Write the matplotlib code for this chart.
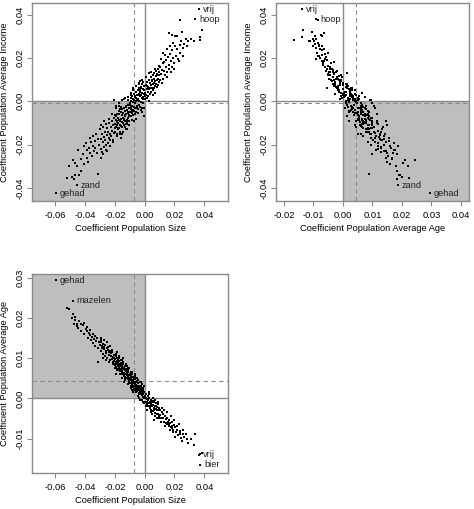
import matplotlib
matplotlib.use("Agg")
import matplotlib.pyplot as plt

""" Word coefficients: population size, average income, average age """

size_coef = [
    -0.0520, -0.0505, -0.0490, -0.0480, -0.0475, -0.0470, -0.0465, -0.0455, -0.0450, -0.0440,
    -0.0430, -0.0425, -0.0415, -0.0410, -0.0405,
    -0.0395, -0.0390, -0.0385, -0.0380, -0.0375, -0.0370, -0.0365, -0.0360, -0.0355, -0.0350,
    -0.0345, -0.0340, -0.0335, -0.0330, -0.0325, -0.0320, -0.0315, -0.0310, -0.0305,
    -0.0298, -0.0295, -0.0292, -0.0288, -0.0285, -0.0282, -0.0278, -0.0275, -0.0272, -0.0268,
    -0.0265, -0.0262, -0.0258, -0.0255, -0.0252, -0.0248, -0.0245, -0.0242, -0.0238, -0.0235,
    -0.0232, -0.0228, -0.0225, -0.0222, -0.0218, -0.0215, -0.0212, -0.0208, -0.0205, -0.0202,
    -0.0205,
    -0.0199, -0.0197, -0.0195, -0.0193, -0.0191, -0.0189, -0.0187, -0.0185, -0.0183, -0.0181,
    -0.0179, -0.0177, -0.0175, -0.0173, -0.0171, -0.0169, -0.0167, -0.0165, -0.0163, -0.0161,
    -0.0159, -0.0157, -0.0155, -0.0153, -0.0151, -0.0149, -0.0147, -0.0145, -0.0143, -0.0141,
    -0.0139, -0.0137, -0.0135, -0.0133, -0.0131, -0.0129, -0.0127, -0.0125, -0.0123, -0.0121,
    -0.0119, -0.0117, -0.0115, -0.0113, -0.0111, -0.0109, -0.0107, -0.0105, -0.0103, -0.0101,
    -0.0190, -0.0160, -0.0140, -0.0120, -0.0175, -0.0150, -0.0110, -0.0130,
    -0.0099, -0.0097, -0.0095, -0.0093, -0.0091, -0.0089, -0.0087, -0.0085, -0.0083, -0.0081,
    -0.0079, -0.0077, -0.0075, -0.0073, -0.0071, -0.0069, -0.0067, -0.0065, -0.0063, -0.0061,
    -0.0059, -0.0057, -0.0055, -0.0053, -0.0051, -0.0049, -0.0047, -0.0045, -0.0043, -0.0041,
    -0.0039, -0.0037, -0.0035, -0.0033, -0.0031, -0.0029, -0.0027, -0.0025, -0.0023, -0.0021,
    -0.0019, -0.0017, -0.0015, -0.0013, -0.0011, -0.0009, -0.0007, -0.0005, -0.0003, -0.0001,
    -0.0080, -0.0060, -0.0040, -0.0020, -0.0090, -0.0030, -0.0070, -0.0010,
    0.0002, 0.0005, 0.0008, 0.0010, 0.0013, 0.0015, 0.0018, 0.0020, 0.0023, 0.0025,
    0.0028, 0.0030, 0.0033, 0.0035, 0.0038, 0.0040, 0.0043, 0.0045, 0.0048, 0.0050,
    0.0053, 0.0055, 0.0058, 0.0060, 0.0063, 0.0065, 0.0068, 0.0070, 0.0073, 0.0075,
    0.0078, 0.0080, 0.0083, 0.0085, 0.0088, 0.0090, 0.0093, 0.0095, 0.0098, 0.0063,
    0.0030, 0.0070,
    0.0102, 0.0106, 0.0110, 0.0115, 0.0120, 0.0125, 0.0130, 0.0135, 0.0140, 0.0145,
    0.0150, 0.0155, 0.0160, 0.0165, 0.0170, 0.0175, 0.0180, 0.0185, 0.0190, 0.0195,
    0.0160, 0.0185, 0.0125,
    0.0205, 0.0210, 0.0220, 0.0225, 0.0235, 0.0240, 0.0245, 0.0255, 0.0265, 0.0285,
    0.0240, 0.0215,
    0.0330, 0.0370, 0.0385, 0.0340, 0.0365, 0.0373, 0.0310,
    -0.0597, -0.0456, -0.0483,
    # wider scatter
    -0.0290, -0.0280, -0.0270, -0.0260, -0.0250, -0.0240, -0.0230, -0.0220, -0.0210, -0.0295,
    -0.0195, -0.0185, -0.0175, -0.0165, -0.0155, -0.0145, -0.0135, -0.0125, -0.0115, -0.0105,
    -0.0188, -0.0168, -0.0148, -0.0128, -0.0108, -0.0198, -0.0178, -0.0158, -0.0138, -0.0118,
    -0.0095, -0.0085, -0.0075, -0.0065, -0.0055, -0.0045, -0.0035, -0.0025, -0.0015, -0.0005,
    -0.0092, -0.0072, -0.0052, -0.0032, -0.0012, -0.0082, -0.0062, -0.0042, -0.0022, -0.0002,
    0.0012, 0.0027, 0.0042, 0.0057, 0.0072, 0.0087, 0.0097, 0.0017, 0.0052, 0.0082,
    0.0108, 0.0118, 0.0138, 0.0148, 0.0168, 0.0178, 0.0193, 0.0152, 0.0128, 0.0198,
    0.0205, 0.0230, 0.0250, 0.0260, 0.0275, 0.0292,
]

income_coef = [
    -0.0355, -0.0300, -0.0350, -0.0270, -0.0360, -0.0340, -0.0285, -0.0300, -0.0225, -0.0340,
    -0.0265, -0.0320, -0.0245, -0.0290, -0.0205,
    -0.0195, -0.0260, -0.0225, -0.0280, -0.0215, -0.0170, -0.0240, -0.0190, -0.0255, -0.0205,
    -0.0160, -0.0230, -0.0185, -0.0215, -0.0150, -0.0240, -0.0175, -0.0335, -0.0200,
    -0.0130, -0.0220, -0.0175, -0.0150, -0.0235, -0.0190, -0.0120, -0.0165, -0.0210, -0.0140,
    -0.0180, -0.0105, -0.0225, -0.0155, -0.0125, -0.0195, -0.0140, -0.0170, -0.0100, -0.0150,
    -0.0205, -0.0120, -0.0160, -0.0090, -0.0135, -0.0180, -0.0110, -0.0145, -0.0075, -0.0125,
    0.0005,
    -0.0105, -0.0140, -0.0070, -0.0120, -0.0085, -0.0150, -0.0060, -0.0110, -0.0095, -0.0130,
    -0.0075, -0.0100, -0.0045, -0.0125, -0.0085, -0.0060, -0.0110, -0.0090, -0.0140, -0.0050,
    -0.0080, -0.0115, -0.0065, -0.0095, -0.0035, -0.0120, -0.0075, -0.0055, -0.0100, -0.0080,
    -0.0030, -0.0110, -0.0065, -0.0090, -0.0045, -0.0070, -0.0105, -0.0025, -0.0060, -0.0085,
    -0.0040, -0.0095, -0.0055, -0.0015, -0.0075, -0.0050, -0.0090, -0.0030, -0.0065, -0.0010,
    -0.0020, -0.0170, 0.0010, -0.0130, -0.0020, -0.0150, 0.0005, -0.0120,
    -0.0050, -0.0015, -0.0070, 0.0000, -0.0035, 0.0015, -0.0055, -0.0020, 0.0025, -0.0040,
    -0.0005, -0.0065, 0.0010, -0.0025, 0.0035, -0.0045, -0.0010, 0.0020, -0.0030, 0.0045,
    0.0000, -0.0050, 0.0015, -0.0020, 0.0030, 0.0005, -0.0035, 0.0050, 0.0010, -0.0015,
    0.0035, 0.0000, 0.0060, -0.0025, 0.0025, 0.0045, -0.0005, 0.0030, 0.0065, 0.0015,
    -0.0030, 0.0040, 0.0080, 0.0020, 0.0055, -0.0010, 0.0035, 0.0070, -0.0070, 0.0025,
    0.0060, -0.0080, 0.0085, -0.0050, 0.0040, 0.0095, -0.0090, 0.0090,
    0.0040, 0.0010, 0.0075, 0.0030, 0.0055, 0.0015, 0.0090, 0.0045, 0.0065, 0.0025,
    0.0100, 0.0055, 0.0035, 0.0085, 0.0060, 0.0110, 0.0045, 0.0075, 0.0095, 0.0060,
    0.0120, 0.0080, 0.0050, 0.0105, 0.0085, 0.0130, 0.0070, 0.0095, 0.0115, 0.0080,
    0.0140, 0.0100, 0.0065, 0.0125, 0.0105, 0.0150, 0.0090, 0.0120, 0.0135, 0.0060,
    0.0130, 0.0040,
    0.0100, 0.0160, 0.0125, 0.0145, 0.0105, 0.0175, 0.0140, 0.0120, 0.0190, 0.0160,
    0.0135, 0.0205, 0.0170, 0.0150, 0.0220, 0.0185, 0.0160, 0.0235, 0.0200, 0.0175,
    0.0315, 0.0305, 0.0225,
    0.0255, 0.0210, 0.0240, 0.0195, 0.0260, 0.0225, 0.0280, 0.0245, 0.0265, 0.0255,
    0.0375, 0.0300,
    0.0280, 0.0295, 0.0330, 0.0380, 0.0425, 0.0285, 0.0290,
    -0.0425, -0.0388, -0.0270,
    # wider scatter
    -0.0110, -0.0245, -0.0090, -0.0200, -0.0230, -0.0080, -0.0180, -0.0060, -0.0190, -0.0260,
    -0.0030, -0.0160, -0.0010, -0.0150, 0.0005, -0.0140, 0.0015, -0.0130, 0.0020, -0.0110,
    -0.0090, -0.0035, -0.0100, -0.0020, -0.0070, -0.0065, -0.0125, -0.0025, -0.0085, -0.0105,
    0.0030, -0.0085, 0.0050, -0.0060, 0.0070, -0.0055, 0.0080, -0.0040, 0.0100, -0.0030,
    -0.0025, 0.0005, -0.0030, 0.0050, 0.0010, -0.0045, 0.0025, 0.0030, 0.0060, 0.0050,
    0.0110, 0.0000, 0.0135, 0.0030, 0.0150, 0.0075, 0.0165, 0.0070, 0.0100, 0.0120,
    0.0195, 0.0085, 0.0215, 0.0110, 0.0255, 0.0135, 0.0270, 0.0240, 0.0180, 0.0150,
    0.0300, 0.0185, 0.0320, 0.0210, 0.0290, 0.0280,
]

age_coef = [
    0.0225, 0.0222, 0.0200, 0.0210, 0.0185, 0.0195, 0.0203, 0.0180, 0.0175, 0.0192,
    0.0168, 0.0185, 0.0183, 0.0160, 0.0188,
    0.0172, 0.0168, 0.0178, 0.0150, 0.0162, 0.0158, 0.0170, 0.0145, 0.0152, 0.0160,
    0.0138, 0.0148, 0.0155, 0.0130, 0.0142, 0.0150, 0.0125, 0.0090, 0.0140,
    0.0132, 0.0118, 0.0140, 0.0125, 0.0130, 0.0110, 0.0136, 0.0122, 0.0128, 0.0105,
    0.0134, 0.0118, 0.0112, 0.0125, 0.0100, 0.0120, 0.0128, 0.0108, 0.0115, 0.0095,
    0.0118, 0.0105, 0.0112, 0.0098, 0.0120, 0.0102, 0.0090, 0.0108, 0.0100, 0.0085,
    0.0092,
    0.0098, 0.0082, 0.0090, 0.0105, 0.0078, 0.0092, 0.0086, 0.0100, 0.0072, 0.0088,
    0.0095, 0.0080, 0.0084, 0.0070, 0.0092, 0.0076, 0.0085, 0.0068, 0.0080, 0.0088,
    0.0074, 0.0062, 0.0082, 0.0070, 0.0078, 0.0066, 0.0085, 0.0060, 0.0072, 0.0064,
    0.0076, 0.0058, 0.0070, 0.0080, 0.0062, 0.0054, 0.0068, 0.0060, 0.0074, 0.0052,
    0.0064, 0.0058, 0.0048, 0.0066, 0.0055, 0.0070, 0.0046, 0.0058, 0.0050, 0.0062,
    0.0060, 0.0095, 0.0040, 0.0080, 0.0105, 0.0050, 0.0035, 0.0045,
    0.0050, 0.0038, 0.0055, 0.0045, 0.0030, 0.0052, 0.0042, 0.0060, 0.0036, 0.0028,
    0.0046, 0.0038, 0.0054, 0.0032, 0.0040, 0.0024, 0.0048, 0.0030, 0.0036, 0.0026,
    0.0042, 0.0020, 0.0034, 0.0028, 0.0044, 0.0018, 0.0032, 0.0024, 0.0038, 0.0014,
    0.0028, 0.0020, 0.0032, 0.0016, 0.0026, 0.0010, 0.0022, 0.0030, 0.0012, 0.0018,
    0.0008, 0.0024, 0.0014, 0.0004, 0.0020, 0.0010, 0.0000, 0.0016, 0.0015, 0.0006,
    0.0015, 0.0050, 0.0002, 0.0035, 0.0065, -0.0005, 0.0020, -0.0010,
    0.0005, -0.0008, 0.0002, 0.0012, -0.0015, -0.0002, -0.0010, 0.0006, -0.0020, -0.0005,
    -0.0012, 0.0002, -0.0025, -0.0008, -0.0018, -0.0004, -0.0014, -0.0028, -0.0010, -0.0020,
    -0.0006, -0.0032, -0.0016, -0.0024, -0.0008, -0.0030, -0.0018, -0.0036, -0.0012, -0.0026,
    -0.0020, -0.0040, -0.0022, -0.0030, -0.0015, -0.0038, -0.0028, -0.0044, -0.0024, -0.0054,
    0.0015, -0.0005,
    -0.0030, -0.0042, -0.0050, -0.0035, -0.0048, -0.0040, -0.0058, -0.0045, -0.0052, -0.0062,
    -0.0048, -0.0058, -0.0068, -0.0055, -0.0062, -0.0072, -0.0060, -0.0070, -0.0078, -0.0066,
    -0.0065, -0.0075, -0.0050,
    -0.0072, -0.0085, -0.0078, -0.0092, -0.0082, -0.0088, -0.0098, -0.0090, -0.0095, -0.0102,
    -0.0085, -0.0070,
    -0.0115, -0.0138, -0.0135, -0.0090, -0.0140, -0.0166, -0.0100,
    0.0294, 0.0186, 0.0243,
    # wider scatter
    0.0150, 0.0100, 0.0145, 0.0095, 0.0140, 0.0090, 0.0130, 0.0115, 0.0085, 0.0145,
    0.0110, 0.0070, 0.0100, 0.0060, 0.0095, 0.0090, 0.0050, 0.0085, 0.0075, 0.0040,
    0.0115, 0.0060, 0.0100, 0.0080, 0.0075, 0.0075, 0.0095, 0.0070, 0.0055, 0.0065,
    0.0025, 0.0065, 0.0030, 0.0060, 0.0015, 0.0045, 0.0010, 0.0040, -0.0005, 0.0030,
    0.0062, 0.0050, 0.0050, 0.0040, 0.0026, 0.0020, 0.0055, 0.0005, 0.0028, -0.0012,
    -0.0020, 0.0010, -0.0035, 0.0000, -0.0045, -0.0010, -0.0050, -0.0030, -0.0040, -0.0050,
    -0.0060, -0.0025, -0.0070, -0.0035, -0.0080, -0.0045, -0.0085, -0.0065, -0.0030, -0.0055,
    -0.0095, -0.0065, -0.0105, -0.0080, -0.0090, -0.0110,
]

words = ["vrij", "hoop", "gehad", "zand", "mazelen", "bier"]
word_size = [0.0365, 0.0340, -0.0597, -0.0456, -0.0483, 0.0373]
word_income = [0.0425, 0.0380, -0.0425, -0.0388, -0.0270, 0.0285]
word_age = [-0.0140, -0.0090, 0.0294, 0.0186, 0.0243, -0.0166]

# mean coefficients (dashed reference lines)
mean_size = -0.0072
mean_income = -0.0007
mean_age = 0.0044

size_ticks = [-0.06, -0.04, -0.02, 0.00, 0.02, 0.04]
income_ticks = [-0.04, -0.02, 0.00, 0.02, 0.04]
age_ticks_x = [-0.02, -0.01, 0.00, 0.01, 0.02, 0.03, 0.04]
age_ticks_y = [-0.01, 0.00, 0.01, 0.02, 0.03]

plt.rcParams["font.family"] = ["Liberation Sans", "DejaVu Sans"]
plt.rcParams["axes.unicode_minus"] = False
plt.rcParams["font.size"] = 6.7

FRAME = "#8a8a8a"
SHADE = "#bebebe"


def Scatter_Panel(ax, xs, ys, xlim, ylim, xticks, yticks, xlabel, ylabel,
                  shade_x, shade_y, mean_x, mean_y, labels):
    ax.set_xlim(xlim)
    ax.set_ylim(ylim)
    # shaded quadrant, bounded by the zero lines
    x0, x1 = (xlim[0], 0) if shade_x < 0 else (0, xlim[1])
    y0, y1 = (ylim[0], 0) if shade_y < 0 else (0, ylim[1])
    ax.fill_between([x0, x1], y0, y1, color=SHADE, lw=0, zorder=0)
    ax.axvline(0, color=FRAME, lw=1, zorder=1)
    ax.axhline(0, color=FRAME, lw=1, zorder=1)
    ax.axvline(mean_x, color=FRAME, lw=0.8, ls=(0, (4, 3)), zorder=1)
    ax.axhline(mean_y, color=FRAME, lw=0.8, ls=(0, (4, 3)), zorder=1)
    ax.scatter(xs, ys, s=4.5, color="black", marker="s", lw=0, zorder=3)
    for name, lx, ly in labels:
        ax.annotate(name, (lx, ly), xytext=(3, 0), textcoords="offset points",
                    va="center", ha="left", color="#222222", fontsize=6.7)
    ax.set_xticks(xticks)
    ax.set_yticks(yticks)
    ax.set_xticklabels([f"{t:.2f}" for t in xticks])
    ax.set_yticklabels([f"{t:.2f}" for t in yticks], rotation=90, va="center")
    ax.tick_params(axis="x", length=3.5, width=0.8, color=FRAME, pad=3.5)
    ax.tick_params(axis="y", length=3.5, width=0.8, color=FRAME, pad=1.5)
    ax.set_xlabel(xlabel, labelpad=3)
    ax.set_ylabel(ylabel, labelpad=5)
    for sp in ax.spines.values():
        sp.set_color(FRAME)
        sp.set_linewidth(1)


fig = plt.figure(figsize=(4.74, 5.09), dpi=100)

ax1 = fig.add_axes([0.0675, 0.605, 0.4135, 0.389])
labels1 = [(w, word_size[i], word_income[i]) for i, w in enumerate(words)
           if w in ("vrij", "hoop", "gehad", "zand")]
Scatter_Panel(ax1, size_coef, income_coef, (-0.0756, 0.0559), (-0.0461, 0.0454),
              size_ticks, income_ticks, "Coefficient Population Size",
              "Coefficient Population Average Income", -1, -1,
              mean_size, mean_income, labels1)

ax2 = fig.add_axes([0.582, 0.605, 0.407, 0.389])
labels2 = [(w, word_age[i], word_income[i]) for i, w in enumerate(words)
           if w in ("vrij", "hoop", "gehad", "zand")]
Scatter_Panel(ax2, age_coef, income_coef, (-0.0227, 0.0427), (-0.0461, 0.0454),
              age_ticks_x, income_ticks, "Coefficient Population Average Age",
              "Coefficient Population Average Income", 1, -1,
              mean_age, mean_income, labels2)

ax3 = fig.add_axes([0.0675, 0.0707, 0.4135, 0.391])
labels3 = [(w, word_size[i], word_age[i]) for i, w in enumerate(words)
           if w in ("gehad", "mazelen", "vrij", "bier")]
Scatter_Panel(ax3, size_coef, age_coef, (-0.0756, 0.0559), (-0.0186, 0.0310),
              size_ticks, age_ticks_y, "Coefficient Population Size",
              "Coefficient Population Average Age", -1, 1,
              mean_size, mean_age, labels3)

fig.savefig("out.png", dpi=100)
